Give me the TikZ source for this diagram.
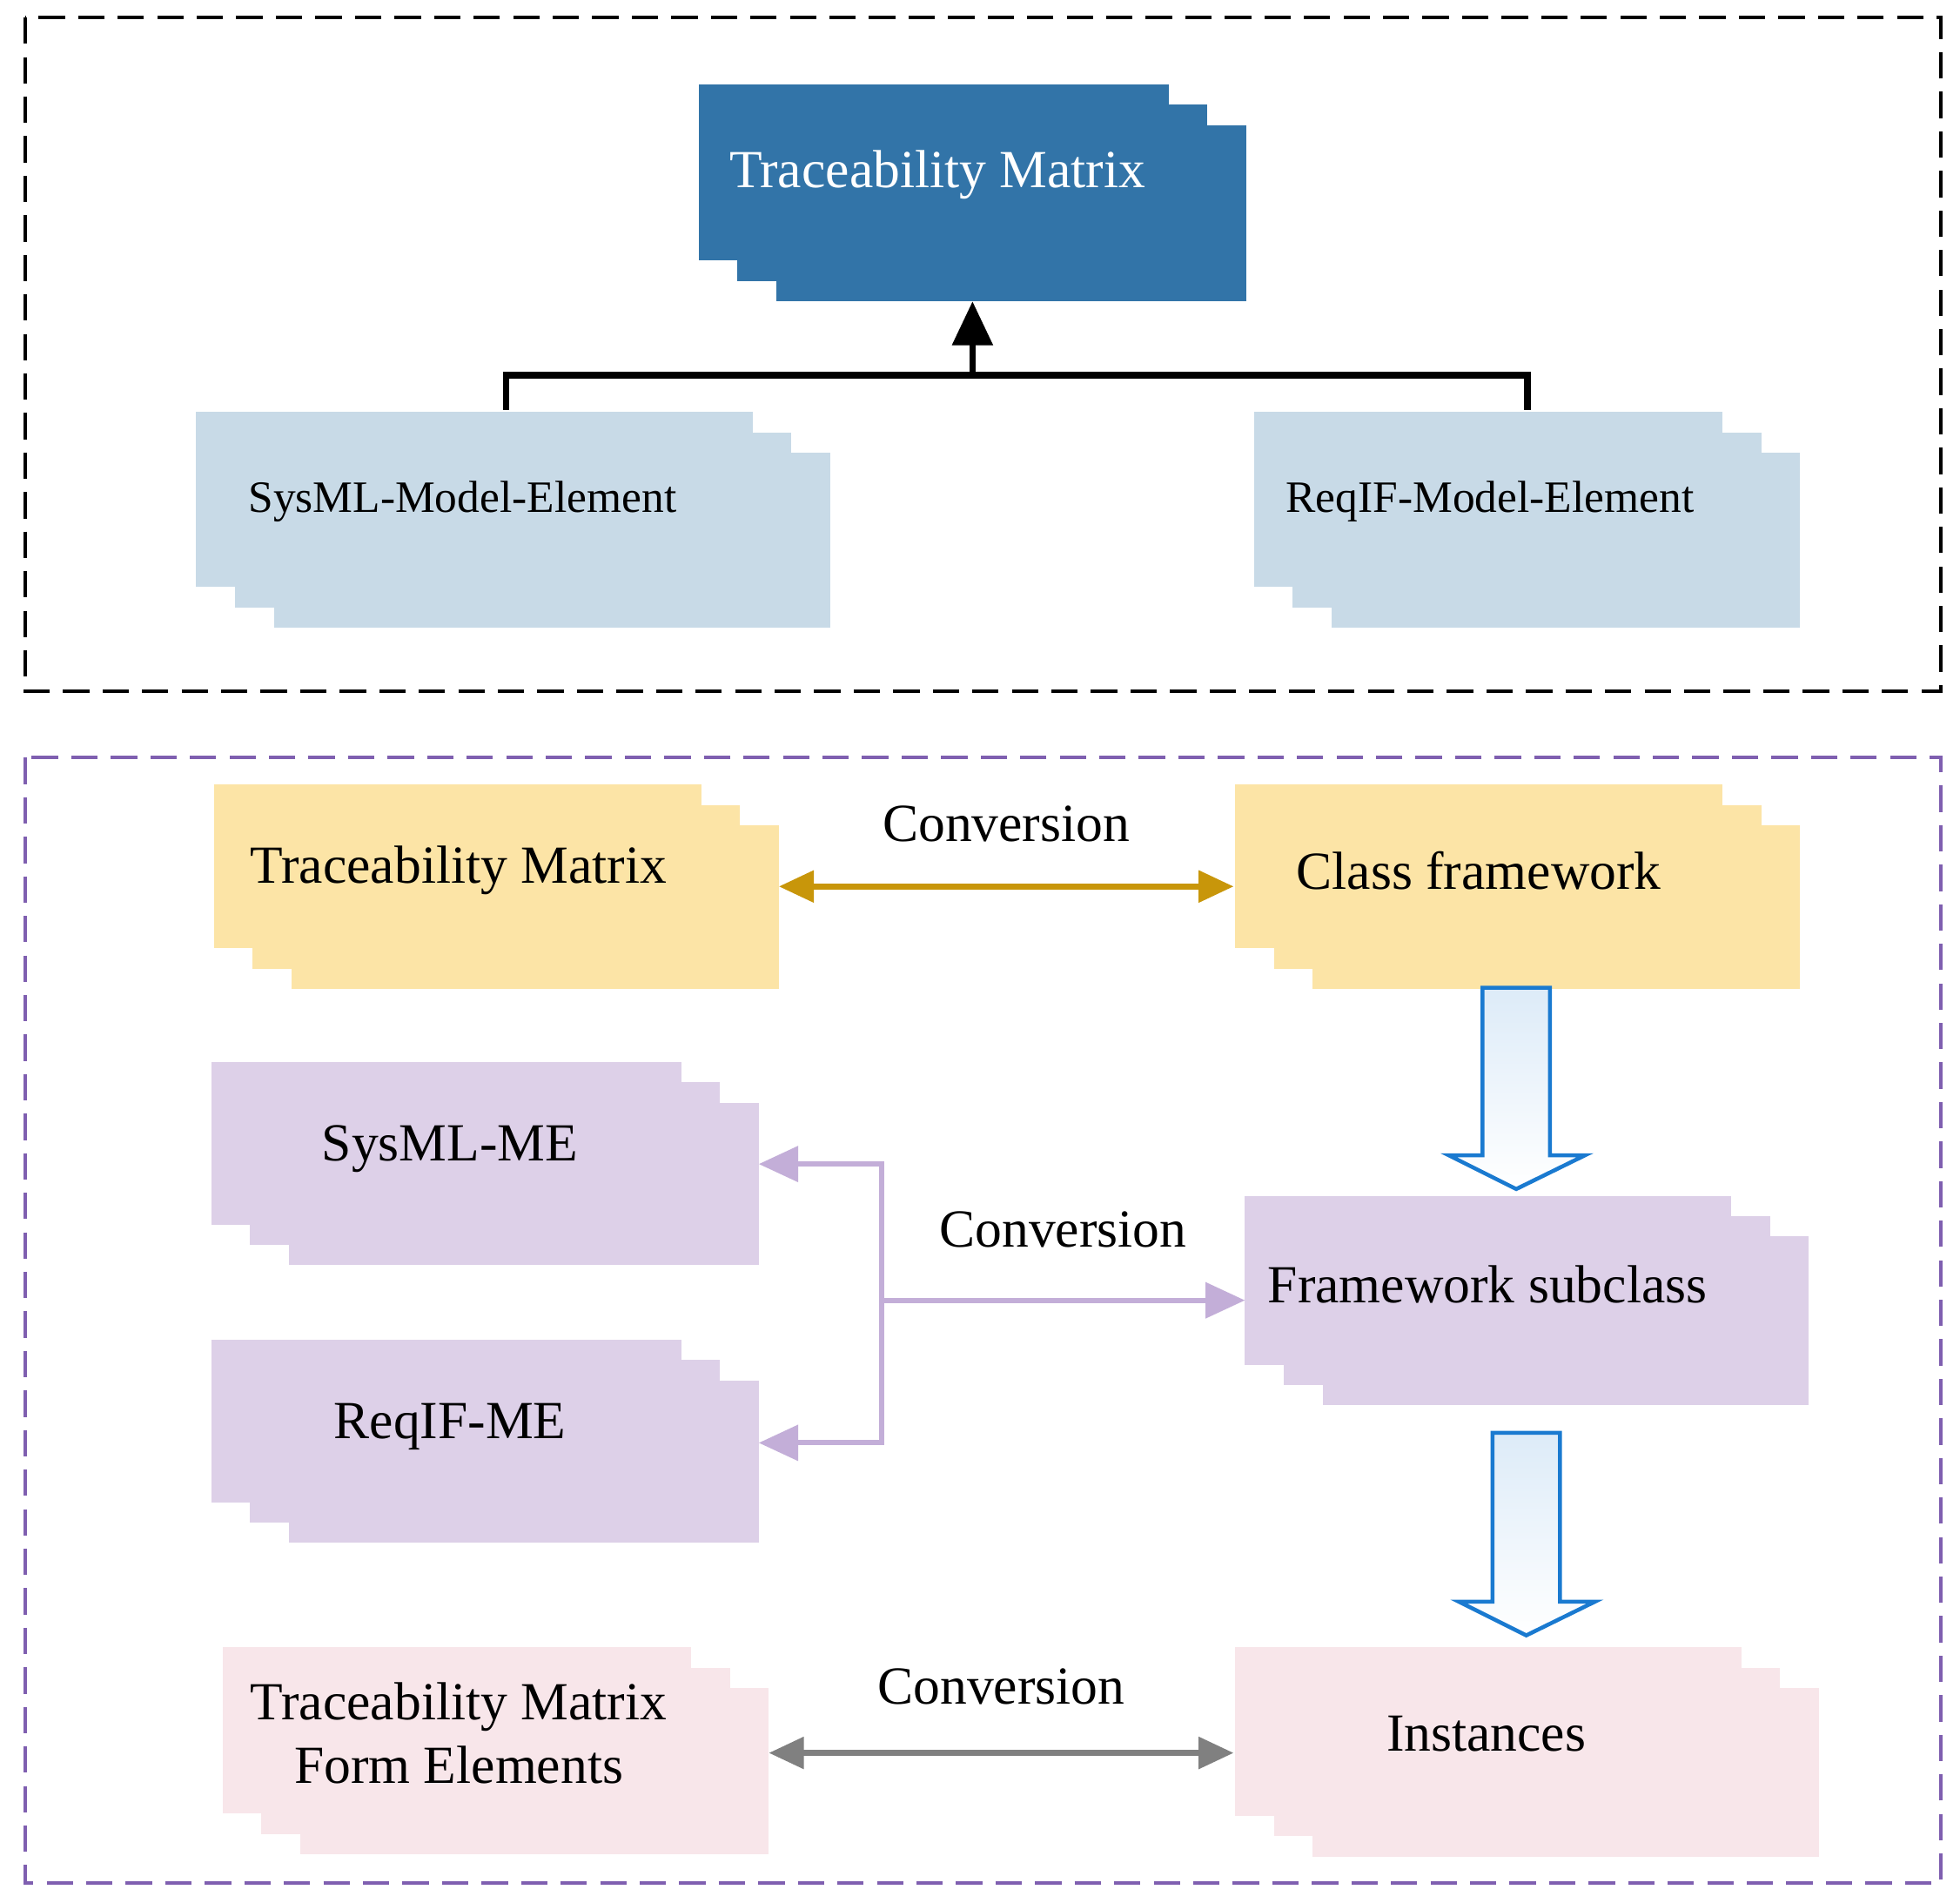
\documentclass[tikz,border=0pt]{standalone}
\usepackage{fontspec}
\setmainfont{Liberation Serif}
\usetikzlibrary{arrows.meta, shadows, positioning}
\definecolor{tmblue}{HTML}{3274A8}
\definecolor{melight}{HTML}{C8DAE7}
\definecolor{tmyellow}{HTML}{FCE4A6}
\definecolor{melilac}{HTML}{DDD0E8}
\definecolor{fepink}{HTML}{F8E6EA}
\definecolor{gold}{HTML}{C8960A}
\definecolor{lilacline}{HTML}{C3AED8}
\definecolor{frame}{HTML}{7F5FB0}
\definecolor{blockblue}{HTML}{1A7AD0}
\tikzset{
  stack/.style={draw=none, inner sep=0pt,
    double copy shadow={shadow xshift=-0.31cm, shadow yshift=0.163cm, draw=none}},
  txt/.style={font=\fontsize{12.2}{14.5}\selectfont, align=center},
  small/.style={font=\fontsize{10.2}{12}\selectfont},
  conv/.style={line width=1.5pt, {Triangle[length=8pt,width=7pt]}-{Triangle[length=8pt,width=7pt]}},
  blockarrow/.style={draw=blockblue, line width=0.9pt, top color=blockblue!15, bottom color=white},
  box/.style={dash pattern=on 6pt off 3pt, line width=0.8pt}
}
\begin{document}
\begin{tikzpicture}[x=0.1mm, y=-0.1mm]
\useasboundingbox (0,0) rectangle (1568,1522);

% frames
\draw[box] (20,14) rectangle (1553,553);
\draw[box, frame] (20,606) rectangle (1553,1506);

% top part
\node[stack, fill=tmblue, minimum width=3.76cm, minimum height=1.41cm] (tm) at (809,170.5) {};
\node[txt, text=white] (tmtext) at (750,140) {Traceability Matrix};
\node[stack, fill=melight, minimum width=4.45cm, minimum height=1.40cm] (sysml) at (441.5,432) {};
\node[small] (sysmltext) at (370,401) {SysML-Model-Element};
\node[stack, fill=melight, minimum width=3.75cm, minimum height=1.40cm] (reqif) at (1252.5,432) {};
\node[small] (reqiftext) at (1192,401) {ReqIF-Model-Element};
\coordinate (join) at (778,300);
\draw[line width=1.5pt] (405,328) |- (join) -| (1222,328);
\draw[line width=1.5pt, -{Triangle[length=10pt,width=9pt]}] (join) -- (778,241);

% bottom part
\node[stack, fill=tmyellow, minimum width=3.90cm, minimum height=1.31cm] (tmy) at (428,725.5) {};
\node[txt] (tmytext) at (367,696) {Traceability Matrix};
\node[stack, fill=tmyellow, minimum width=3.90cm, minimum height=1.31cm] (cf) at (1245,725.5) {};
\node[txt] (cftext) at (1183,696) {Class framework};
\draw[conv, gold] (623,709) -- node[txt, black, above=6pt] {Conversion} (987,709);

\node[stack, fill=melilac, minimum width=3.76cm, minimum height=1.30cm] (sme) at (419,947) {};
\node[txt] (smetext) at (360,919) {SysML-ME};
\node[stack, fill=melilac, minimum width=3.76cm, minimum height=1.30cm] (rme) at (419,1169) {};
\node[txt] (rmetext) at (360,1141) {ReqIF-ME};
\node[stack, fill=melilac, minimum width=3.89cm, minimum height=1.35cm] (fs) at (1252.5,1056.5) {};
\node[txt] (fstext) at (1190,1027) {Framework subclass};
\coordinate (split) at (705,1040);
\draw[lilacline, line width=1.2pt, -{Triangle[length=9pt,width=8pt]}] (split) -- node[txt, black, above=8pt] {Conversion} (996,1040);
\draw[lilacline, line width=1.2pt, -{Triangle[length=9pt,width=8pt]}] (split) |- (607,931);
\draw[lilacline, line width=1.2pt, -{Triangle[length=9pt,width=8pt]}] (split) |- (607,1154);

\draw[blockarrow] (1186,790) -- (1240,790) -- (1240,924) -- (1268,924) -- (1213,951)
  -- (1159,924) -- (1186,924) -- cycle;
\draw[blockarrow] (1194,1146) -- (1248,1146) -- (1248,1281) -- (1276,1281) -- (1221,1308)
  -- (1167,1281) -- (1194,1281) -- cycle;

\node[stack, fill=fepink, minimum width=3.75cm, minimum height=1.33cm] (fe) at (427.5,1416.5) {};
\node[txt] (fetext) at (367,1386) {Traceability Matrix\\Form Elements};
\node[stack, fill=fepink, minimum width=4.05cm, minimum height=1.35cm] (inst) at (1252.5,1417.5) {};
\node[txt] (insttext) at (1189,1387) {Instances};
\draw[conv, gray] (615,1402) -- node[txt, black, above=7pt] {Conversion} (987,1402);
\end{tikzpicture}
\end{document}
